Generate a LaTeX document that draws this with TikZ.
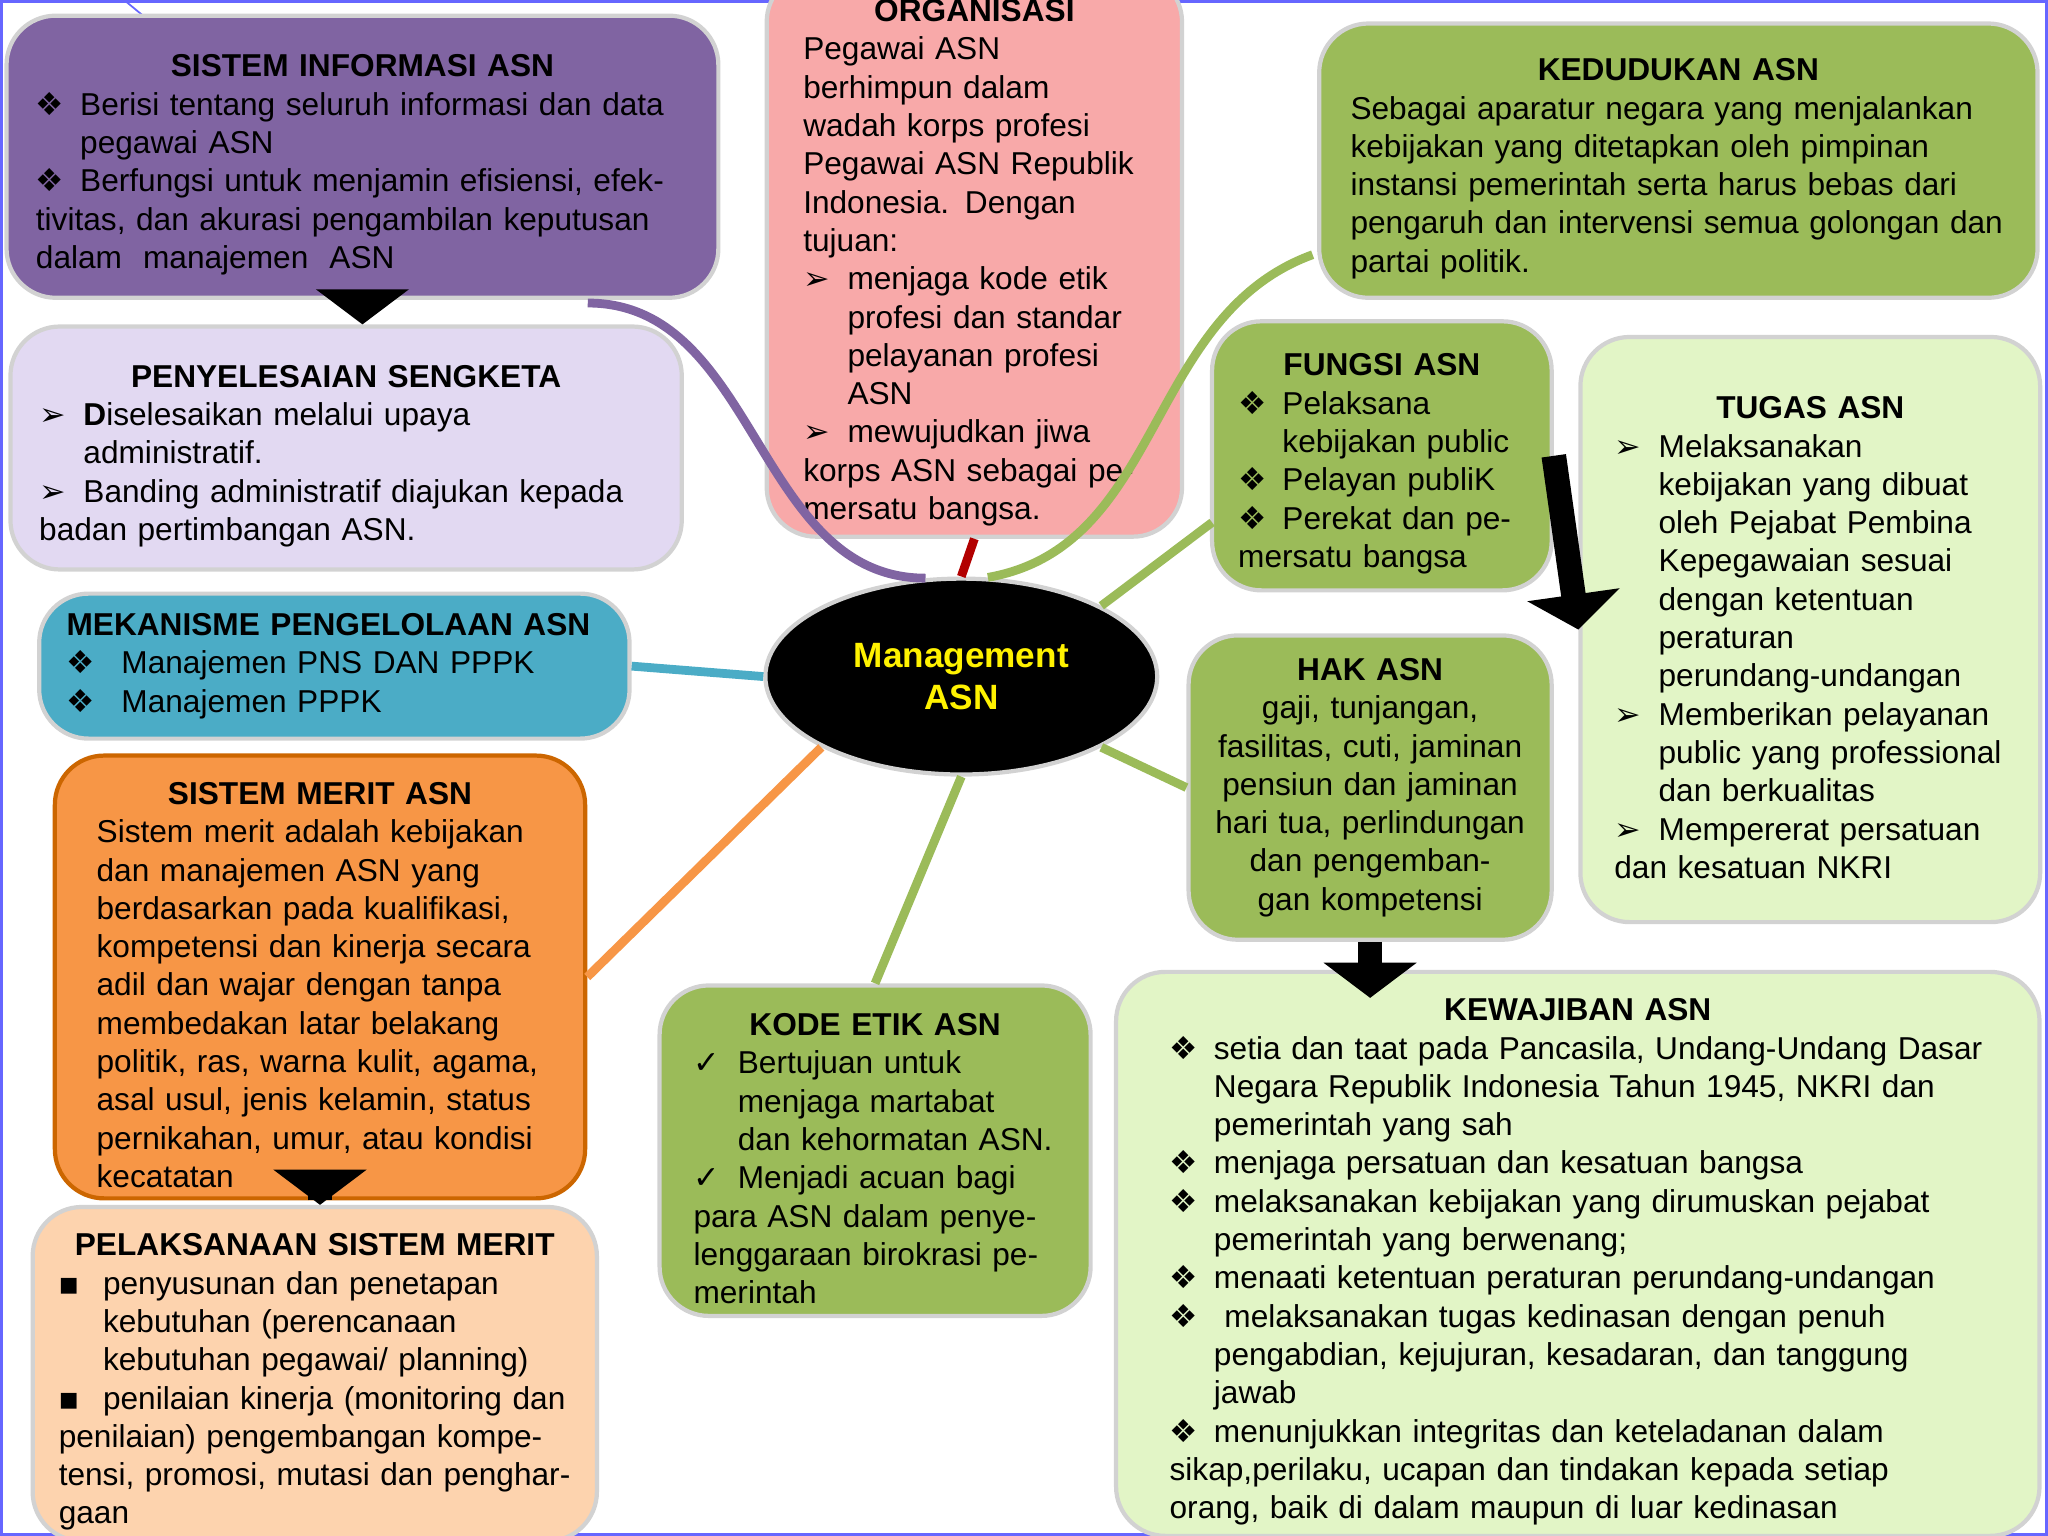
\documentclass[tikz,border=0pt]{standalone}
\usepackage{fontspec}
\setmainfont{Liberation Sans}
\newfontfamily\symf{DejaVu Sans}
\usetikzlibrary{arrows.meta,shapes.geometric}
\definecolor{infoc}{HTML}{8064A2}
\definecolor{greenc}{HTML}{9BBB59}
\definecolor{bluec}{HTML}{4BACC6}
\definecolor{orangec}{HTML}{F79646}
\definecolor{lavc}{HTML}{E2D9F2}
\definecolor{pinkc}{HTML}{F8A9A9}
\definecolor{lgreenc}{HTML}{E2F5C6}
\definecolor{lorangec}{HTML}{FDD3AE}
\newcommand{\bitem}[2]{\par\noindent\hangindent=1.4em\hangafter=1\makebox[1.4em][l]{\symf #1}#2}
\newcommand{\ttl}[1]{\par\centering\textbf{#1}\par\raggedright}
\newcommand{\justtext}{\leftskip=0pt\rightskip=0pt\parfillskip=0pt plus 1fil\relax}
\begin{document}
\begin{tikzpicture}[x=0.01306cm, y=-0.01306cm,
    box/.style={rounded corners=14pt, draw=gray!35, line width=1.2pt, inner sep=3pt,
      font=\fontsize{9}{10.9}\selectfont, align=left},
    link/.style={line width=2.5pt},
    bigarrow/.style={line width=7pt, -{Triangle[width=26pt,length=10pt]}}]
    \useasboundingbox (0,0) rectangle (1568,1176);
    \draw[blue!60, line width=0.8pt] (1,1) rectangle (1567,1175);
    \draw[blue!60, line width=0.5pt] (95,0) -- (210,95);

    %--- Boxes
    \node[box, fill=infoc, minimum width=545*0.01306cm, minimum height=216*0.01306cm,
      text width=500*0.01306cm] (info) at (277.5,120) {\ttl{SISTEM INFORMASI ASN}
      \bitem{❖}{Berisi tentang seluruh informasi dan data pegawai ASN}
      \bitem{❖}{Berfungsi untuk menjamin efisiensi, efektivitas, dan akurasi pengambilan keputusan dalam \ manajemen \ ASN}};
    \node[box, fill=pinkc, minimum width=318*0.01306cm, minimum height=366*0.01306cm,
      text width=262*0.01306cm] (org) at (746,195) {\ttl{ORGANISASI}
      Pegawai ASN berhimpun dalam wadah korps profesi Pegawai ASN Republik Indonesia. Dengan tujuan:
      \bitem{➢}{menjaga kode etik profesi dan standar pelayanan profesi ASN}
      \bitem{➢}{mewujudkan jiwa korps ASN sebagai pemersatu bangsa.}};
    \node[box, fill=greenc, minimum width=550*0.01306cm, minimum height=210*0.01306cm,
      text width=502*0.01306cm] (ked) at (1285,123) {\ttl{KEDUDUKAN ASN}
      \justtext Sebagai aparatur negara yang menjalankan kebijakan yang ditetapkan oleh pimpinan instansi pemerintah serta harus bebas dari pengaruh dan intervensi semua golongan dan partai politik.};
    \node[box, fill=lavc, minimum width=514*0.01306cm, minimum height=186*0.01306cm,
      text width=470*0.01306cm] (peny) at (265,343) {\ttl{PENYELESAIAN SENGKETA}
      \bitem{➢}{\textbf{D}iselesaikan melalui upaya administratif.}
      \bitem{➢}{Banding administratif diajukan kepada badan pertimbangan ASN.}};
    \node[box, fill=greenc, minimum width=260*0.01306cm, minimum height=206*0.01306cm,
      text width=220*0.01306cm] (fung) at (1058,349) {\ttl{FUNGSI ASN}
      \bitem{❖}{Pelaksana kebijakan public}
      \bitem{❖}{Pelayan publiK}
      \bitem{❖}{Perekat dan pemersatu bangsa}};
    \node[box, fill=lgreenc, minimum width=352*0.01306cm, minimum height=448*0.01306cm,
      text width=300*0.01306cm] (tugas) at (1386,482) {\ttl{TUGAS ASN}
      \bitem{➢}{Melaksanakan kebijakan yang dibuat oleh Pejabat Pembina Kepegawaian sesuai dengan ketentuan peraturan perundang-undangan}
      \bitem{➢}{Memberikan pelayanan public yang professional dan berkualitas}
      \bitem{➢}{Mempererat persatuan dan kesatuan NKRI}};
    \node[box, fill=bluec, minimum width=452*0.01306cm, minimum height=111*0.01306cm,
      text width=410*0.01306cm] (mek) at (256,510) {\textbf{MEKANISME PENGELOLAAN ASN}
      \bitem{❖}{\ Manajemen PNS DAN PPPK}
      \bitem{❖}{\ Manajemen PPPK}};
    \node[ellipse, fill=black, draw=gray!35, line width=1.2pt, minimum width=300*0.01306cm,
      minimum height=150*0.01306cm, align=center, text=yellow,
      font=\fontsize{10}{12}\selectfont\bfseries] (mgmt) at (736,518) {Management\\ASN};
    \node[box, fill=greenc, minimum width=278*0.01306cm, minimum height=233*0.01306cm,
      text width=240*0.01306cm, align=center] (hak) at (1049,603) {\textbf{HAK ASN}\\
      gaji, tunjangan, fasilitas, cuti, jaminan pensiun dan jaminan hari tua, perlindungan dan pengembangan kompetensi};
    \node[box, fill=orangec, draw=orange!80!black, minimum width=406*0.01306cm,
      minimum height=327*0.01306cm, text width=342*0.01306cm] (merit) at (245,748) {\ttl{SISTEM MERIT ASN}
      \justtext Sistem merit adalah kebijakan dan manajemen ASN yang berdasarkan pada kualifikasi, kompetensi dan kinerja secara adil dan wajar dengan tanpa membedakan latar belakang politik, ras, warna kulit, agama, asal usul, jenis kelamin, status pernikahan, umur, atau kondisi kecatatan};
    \node[box, fill=greenc, minimum width=330*0.01306cm, minimum height=253*0.01306cm,
      text width=278*0.01306cm] (kode) at (670,881) {\ttl{KODE ETIK ASN}
      \bitem{✓}{Bertujuan untuk menjaga martabat dan kehormatan ASN.}
      \bitem{✓}{Menjadi acuan bagi para ASN dalam penyelenggaraan birokrasi pemerintah}};
    \node[box, fill=lgreenc, minimum width=707*0.01306cm, minimum height=424*0.01306cm,
      text width=625*0.01306cm] (kew) at (1208,960) {\ttl{KEWAJIBAN ASN}
      \bitem{❖}{setia dan taat pada Pancasila, Undang-Undang Dasar Negara Republik Indonesia Tahun 1945, NKRI dan pemerintah yang sah}
      \bitem{❖}{menjaga persatuan dan kesatuan bangsa}
      \bitem{❖}{melaksanakan kebijakan yang dirumuskan pejabat pemerintah yang berwenang;}
      \bitem{❖}{menaati ketentuan peraturan perundang-undangan}
      \bitem{❖}{\ melaksanakan tugas kedinasan dengan penuh pengabdian, kejujuran, kesadaran, dan tanggung jawab}
      \bitem{❖}{menunjukkan integritas dan keteladanan dalam sikap,perilaku, ucapan dan tindakan kepada setiap orang, baik di dalam maupun di luar kedinasan}};
    \node[box, fill=lorangec, minimum width=432*0.01306cm, minimum height=240*0.01306cm,
      text width=392*0.01306cm] (pel) at (241,1052) {\ttl{PELAKSANAAN SISTEM MERIT}
      \bitem{▪}{penyusunan dan penetapan kebutuhan (perencanaan kebutuhan pegawai/ planning)}
      \bitem{▪}{penilaian kinerja (monitoring dan penilaian) pengembangan kompetensi, promosi, mutasi dan penghargaan}};

    %--- Connectors to the centre
    \coordinate (infoend) at (450,232);
    \coordinate (kedend) at (1005,195);
    \coordinate (fungend) at (928,400);
    \draw[link, infoc] (infoend) to[out=0, in=180] (mgmt.110);
    \draw[link, red!70!black] (org.south) -- (mgmt.north);
    \draw[link, greenc] (kedend) to[out=200, in=10] (mgmt.75);
    \draw[link, greenc] (fungend) -- (mgmt.north east);
    \draw[link, bluec] (mek.east) -- (mgmt.west);
    \draw[link, orangec] (merit.east) -- (mgmt.south west);
    \draw[link, greenc] (kode.north) -- (mgmt.south);
    \draw[link, greenc] (hak.west) -- (mgmt.south east);

    %--- Block arrows
    \draw[bigarrow] (info.south) -- (info.south |- peny.north);
    \draw[bigarrow] (fung.east) -- (tugas.west);
    \draw[bigarrow] (hak.south) -- ([yshift=-8pt]hak.south |- kew.north);
    \draw[bigarrow] (merit.south) -- (merit.south |- pel.north);
\end{tikzpicture}
\end{document}
